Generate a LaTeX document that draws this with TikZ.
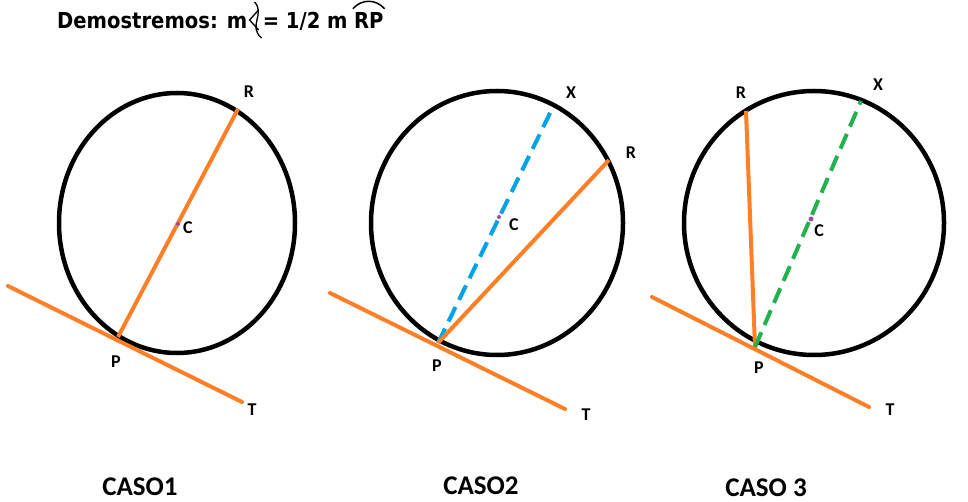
\documentclass[tikz,border=0pt]{standalone}
\usepackage{fontspec}
\usepackage{graphicx}
\setmainfont{Carlito}
\newfontfamily\titlefont{DejaVu Sans}
\definecolor{paintorange}{RGB}{255,127,39}
\definecolor{paintblue}{RGB}{0,162,232}
\definecolor{paintgreen}{RGB}{34,177,76}
\definecolor{paintpurple}{RGB}{163,73,164}
\newcommand{\ttltext}[1]{\scalebox{0.89}[1]{#1}}
\tikzset{
  circ/.style = {line width = 4.5pt, black},
  seg/.style = {line width = 4pt, paintorange},
  dashseg/.style = {line width = 4pt, dash pattern = on 16pt off 8pt},
  lbl/.style = {font = \fontsize{18}{20}\selectfont\bfseries, inner sep = 0pt},
  caso/.style = {font = \fontsize{27}{30}\selectfont\bfseries, inner sep = 0pt},
  ttl/.style = {anchor = base west, inner sep = 0pt, font = \titlefont\fontsize{22}{24}\selectfont\bfseries}
}
\begin{document}
\begin{tikzpicture}[x = 1pt, y = -1pt]
      \useasboundingbox[fill = white](0, 0) rectangle (968, 502);

      % title
      \node[ttl] at(57, 29)(dem){\ttltext{Demostremos: m}};
      \coordinate (ang) at ([xshift = 2pt]dem.base east);
      \draw[line width = 1.3pt]([shift = {(9, -19)}]ang) -- ([shift = {(0, -9)}]ang) -- ([shift = {(9, 1)}]ang);
      \draw[line width = 1.3pt]([shift = {(5, -27)}]ang) .. controls ([shift = {(16, -15)}]ang) and ([shift = {(-2, -3)}]ang) .. ([shift = {(12, 9)}]ang);
      \node[ttl] at([xshift = 13pt]ang)(eq){\ttltext{= 1/2 m}};
      \node[ttl] at([xshift = 6pt]eq.base east)(rp){\ttltext{RP}};
      \draw[line width = 1.5pt]([shift = {(-1, -4)}]rp.north west) .. controls ([shift = {(8, -14)}]rp.north west) and ([shift = {(-8, -14)}]rp.north east) .. ([shift = {(1, -4)}]rp.north east);

      % caso 1
      \draw[circ](177, 223) ellipse[x radius = 118pt, y radius = 130pt];
      \coordinate (p1) at (118, 337);
      \coordinate (r1) at (238, 109);
      \coordinate (a1) at (8, 286);
      \coordinate (t1) at (242, 402);
      \draw[seg, line cap = round](a1) -- (t1);
      \draw[seg](p1) -- (r1);
      \fill[paintpurple](178, 224) circle(2pt);
      \node[lbl] at(249, 92)(lr1){R};
      \node[lbl] at(188, 228)(lc1){C};
      \node[lbl] at(116, 362)(lp1){P};
      \node[lbl] at(252, 410)(lt1){T};
      \node[caso] at(140, 487)(caso1){CASO1};

      % caso 2
      \draw[circ](497, 223) ellipse[x radius = 126pt, y radius = 132pt];
      \coordinate (p2) at (438, 343);
      \coordinate (x2) at (553, 107);
      \coordinate (r2) at (609, 160);
      \coordinate (a2) at (330, 293);
      \coordinate (t2) at (565, 409);
      \draw[seg, line cap = round](a2) -- (t2);
      \draw[dashseg, paintblue](p2) -- (x2);
      \draw[seg](p2) -- (r2);
      \fill[paintpurple](499, 217) circle(2pt);
      \node[lbl] at(571, 93)(lx2){X};
      \node[lbl] at(631, 153)(lr2){R};
      \node[lbl] at(514, 225)(lc2){C};
      \node[lbl] at(437, 366)(lp2){P};
      \node[lbl] at(586, 415)(lt2){T};
      \node[caso] at(481, 486)(caso2){CASO2};

      % caso 3
      \draw[circ](814, 223) ellipse[x radius = 130pt, y radius = 132pt];
      \coordinate (p3) at (755, 347);
      \coordinate (r3) at (746, 111);
      \coordinate (x3) at (861, 101);
      \coordinate (a3) at (652, 297);
      \coordinate (t3) at (869, 407);
      \draw[seg, line cap = round](a3) -- (t3);
      \draw[seg](p3) -- (r3);
      \draw[dashseg, paintgreen](p3) -- (x3);
      \fill[paintpurple](811, 219) circle(2.5pt);
      \node[lbl] at(741, 93)(lr3){R};
      \node[lbl] at(878, 85)(lx3){X};
      \node[lbl] at(819, 231)(lc3){C};
      \node[lbl] at(759, 368)(lp3){P};
      \node[lbl] at(890, 410)(lt3){T};
      \node[caso] at(766, 488)(caso3){CASO 3};
      \end{tikzpicture}
\end{document}
